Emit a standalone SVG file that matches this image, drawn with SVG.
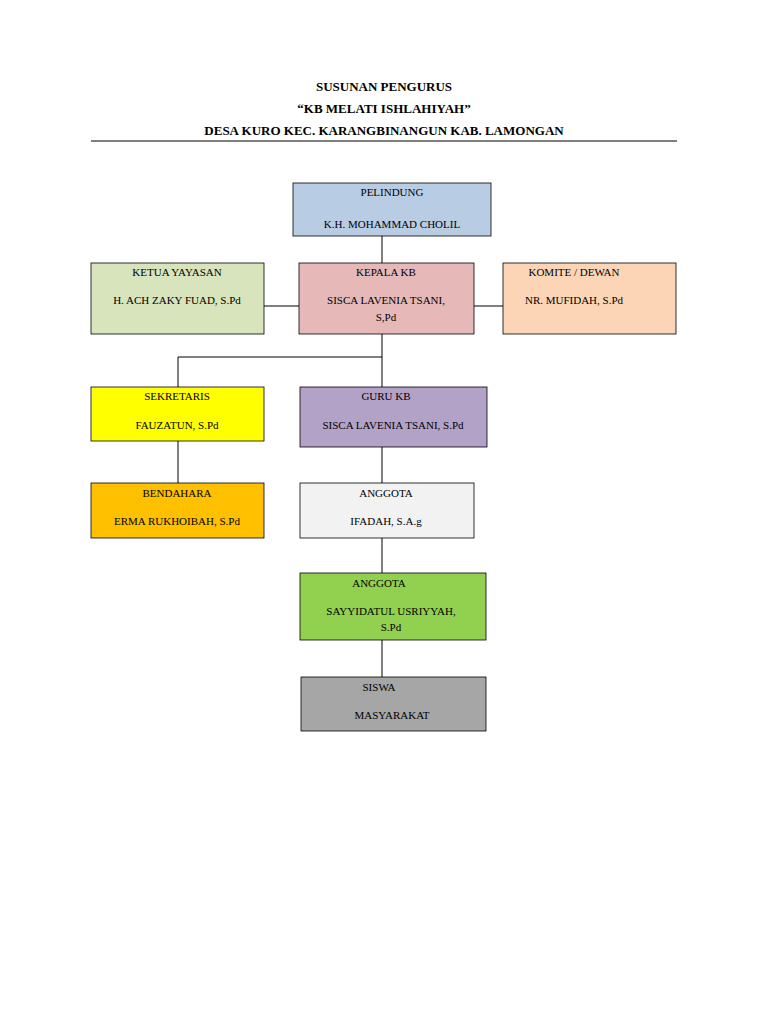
<svg xmlns="http://www.w3.org/2000/svg" width="768" height="1024" viewBox="0 0 768 1024">
<style>
.t{font-family:"Liberation Serif","Times New Roman",serif;font-size:13px;font-weight:bold;text-anchor:middle;fill:#000}
.n{font-family:"Liberation Serif","Times New Roman",serif;font-size:11px;text-anchor:middle;fill:#000}
.b{stroke:#000;stroke-width:0.8}
.c{stroke:#000;stroke-width:1;fill:none}
</style>
<rect width="768" height="1024" fill="#fff"/>
<text class="t" x="384" y="91">SUSUNAN PENGURUS</text>
<text class="t" x="384" y="113">“KB MELATI ISHLAHIYAH”</text>
<text class="t" x="384" y="135">DESA KURO KEC. KARANGBINANGUN KAB. LAMONGAN</text>
<line x1="91" y1="141" x2="677" y2="141" stroke="#000" stroke-width="1"/>
<g id="connectors">
<path class="c" d="M382 236V263M264 306H299M474 306H503M382 334V357H178V387M382 357V387M178 441V483M382 447V483M382 538V573M382 640V677"/>
</g>
<g id="pelindung"><rect class="b" x="293" y="183" width="198" height="53" fill="#b8cce4"/><text class="n" x="392" y="196">PELINDUNG</text><text class="n" x="392" y="228">K.H. MOHAMMAD CHOLIL</text></g>
<g id="ketua"><rect class="b" x="91" y="263" width="173" height="71" fill="#d7e4bc"/><text class="n" x="177" y="276">KETUA YAYASAN</text><text class="n" x="177" y="304">H. ACH ZAKY FUAD, S.Pd</text></g>
<g id="kepala"><rect class="b" x="299" y="263" width="175" height="71" fill="#e6b9b8"/><text class="n" x="386" y="276">KEPALA KB</text><text class="n" x="386" y="304">SISCA LAVENIA TSANI,</text><text class="n" x="386" y="321">S,Pd</text></g>
<g id="komite"><rect class="b" x="503" y="263" width="173" height="71" fill="#fbd5b5"/><text class="n" x="574" y="276">KOMITE / DEWAN</text><text class="n" x="574" y="304">NR. MUFIDAH, S.Pd</text></g>
<g id="sekretaris"><rect class="b" x="91" y="387" width="173" height="54" fill="#ffff00"/><text class="n" x="177" y="400">SEKRETARIS</text><text class="n" x="177" y="429">FAUZATUN, S.Pd</text></g>
<g id="guru"><rect class="b" x="300" y="387" width="187" height="60" fill="#b2a2c7"/><text class="n" x="386" y="400">GURU KB</text><text class="n" x="393" y="429">SISCA LAVENIA TSANI, S.Pd</text></g>
<g id="bendahara"><rect class="b" x="91" y="483" width="173" height="55" fill="#ffc000"/><text class="n" x="177" y="497">BENDAHARA</text><text class="n" x="177" y="525">ERMA RUKHOIBAH, S.Pd</text></g>
<g id="anggota1"><rect class="b" x="300" y="483" width="174" height="55" fill="#f2f2f2"/><text class="n" x="386" y="497">ANGGOTA</text><text class="n" x="386" y="525">IFADAH, S.A.g</text></g>
<g id="anggota2"><rect class="b" x="300" y="573" width="186" height="67" fill="#92d050"/><text class="n" x="379" y="587">ANGGOTA</text><text class="n" x="391" y="615">SAYYIDATUL USRIYYAH,</text><text class="n" x="391" y="631">S.Pd</text></g>
<g id="siswa"><rect class="b" x="301" y="677" width="185" height="54" fill="#a6a6a6"/><text class="n" x="379" y="691">SISWA</text><text class="n" x="392" y="719">MASYARAKAT</text></g>
</svg>
